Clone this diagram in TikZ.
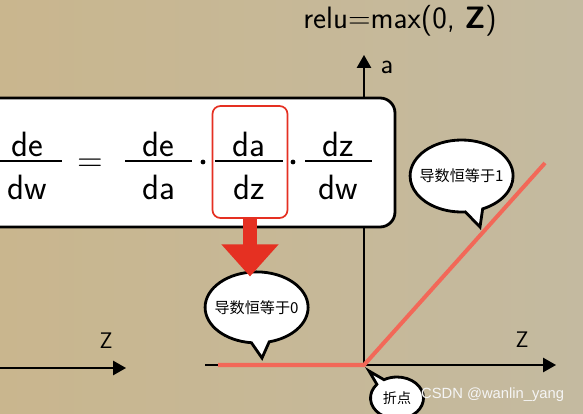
\documentclass[tikz,border=0pt]{standalone}
\usepackage{fontspec}
\newfontfamily\cjk{Noto Sans CJK SC}
\newfontfamily\wmfont{Liberation Sans}
\usetikzlibrary{arrows.meta,shapes.geometric,shapes.callouts}

\definecolor{paper}{RGB}{201,182,142}
\definecolor{paperlight}{RGB}{196,186,160}
\definecolor{relured}{RGB}{242,104,88}
\definecolor{boxred}{RGB}{229,48,34}

\begin{document}
\begin{tikzpicture}[
  axis/.style={line width=2.2pt, -{Triangle[length=0.65cm,width=0.72cm]}},
  bubble/.style={ellipse callout, draw, line width=4pt, fill=white, inner xsep=-0.3cm, inner ysep=0pt,
    callout pointer arc=20, font=\cjk\fontsize{21.5}{24}\selectfont},
  frac/.style={font=\sffamily\fontsize{50}{56}\selectfont\addfontfeature{LetterSpace=6}, inner sep=0pt},
  bar/.style={line width=2.5pt},
  lab/.style={font=\sffamily\fontsize{32}{36}\selectfont}
]

\useasboundingbox (0,0) rectangle (29.15,20.7);
\clip (0,0) rectangle (29.15,20.7);
\shade[left color=paper, right color=paperlight] (0,0) rectangle (29.15,20.7);

% title
\node[font=\sffamily\fontsize{44}{48}\selectfont\addfontfeature{LetterSpace=8}] (title) at (20.0,19.65) {relu=max(0, \textbf{Z})};

% axes
\coordinate (o) at (18.2,2.45);
\draw[axis] (-0.5,2.3) -- (6.3,2.3);
\node[lab] (zl) at (5.3,3.65) {Z};
\draw[axis] (10.25,2.45) -- (27.8,2.45);
\node[lab] (zr) at (26.1,3.7) {Z};
\draw[axis] (o) -- (18.2,17.95);
\node[font=\sffamily\fontsize{40}{44}\selectfont] (alab) at (19.35,17.35) {a};

% relu
\draw[relured, line width=5.7pt] (10.9,2.45) -- (o) -- (27.25,12.55);

% formula box
\draw[line width=4pt, fill=white, rounded corners=0.75cm] (-1,9.35) rectangle (19.75,15.8);

\node[frac, anchor=base] (f1n) at (1.35,12.85) {de};
\node[frac, anchor=base] (f1d) at (1.35,10.7) {dw};
\draw[bar] (-0.3,12.65) -- (3.1,12.65);
\node[frac] (eq) at (4.5,12.45) {=};
\node[frac, anchor=base] (f2n) at (7.93,12.85) {de};
\node[frac, anchor=base] (f2d) at (7.93,10.7) {da};
\draw[bar] (6.25,12.65) -- (9.6,12.65);
\fill (10.15,12.6) circle (0.12);
\node[frac, anchor=base] (f3n) at (12.45,12.85) {da};
\node[frac, anchor=base] (f3d) at (12.45,10.7) {dz};
\draw[bar] (10.77,12.65) -- (14.13,12.65);
\fill (14.65,12.6) circle (0.12);
\node[frac, anchor=base] (f4n) at (16.93,12.85) {dz};
\node[frac, anchor=base] (f4d) at (16.93,10.7) {dw};
\draw[bar] (15.25,12.65) -- (18.6,12.65);

\node[draw=boxred, line width=2.4pt, rounded corners=0.4cm, minimum width=3.75cm,
  minimum height=5.6cm] (hl) at (12.5,12.6) {};

% bubbles
\node[bubble, minimum width=5.15cm, minimum height=3.55cm,
  callout absolute pointer={(13.1,2.8)}] (b0) at (12.83,5.33) {导数恒等于0};
\node[bubble, minimum width=5.15cm, minimum height=3.6cm,
  callout absolute pointer={(24.0,9.35)}] (b1) at (23.08,11.9) {导数恒等于1};
\node[bubble, minimum width=2.65cm, minimum height=2.1cm, font=\cjk\fontsize{20}{22}\selectfont,
  callout absolute pointer={(18.45,2.15)}] (b2) at (19.85,0.8) {折点};

\draw[boxred, line width=0.7cm, -{Triangle[length=1.6cm,width=2.75cm]}, shorten >=-0.3cm]
  (hl.south) -- (hl.south |- b0.north);

\node[font=\wmfont\fontsize{21}{24}\selectfont, text=white!92!gray] (wm) at (24.63,0.95) {CSDN @wanlin\_yang};

\end{tikzpicture}
\end{document}
